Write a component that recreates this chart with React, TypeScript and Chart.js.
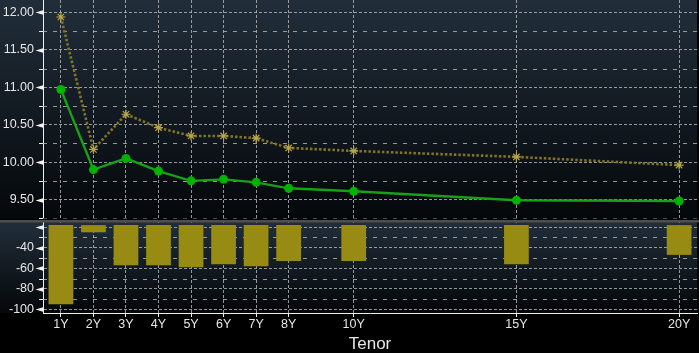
import React, { useEffect, useRef } from 'react';
import { Chart, registerables } from 'chart.js';

Chart.register(...registerables);

// ---- data ----
const tenors = [1, 2, 3, 4, 5, 6, 7, 8, 10, 15, 20];
const tenorLabels = ['1Y', '2Y', '3Y', '4Y', '5Y', '6Y', '7Y', '8Y', '10Y', '15Y', '20Y'];
const curveYellow = [11.94, 10.17, 10.64, 10.46, 10.35, 10.35, 10.32, 10.19, 10.15, 10.07, 9.96];
const curveGreen = [10.97, 9.9, 10.05, 9.88, 9.75, 9.77, 9.73, 9.65, 9.61, 9.49, 9.48];
const spread = [-95, -25, -57, -57, -59, -56, -58, -53, -53, -56, -47];

const rateTicks = [9.25, 9.5, 9.75, 10.0, 10.25, 10.5, 10.75, 11.0, 11.25, 11.5, 11.75, 12.0];
const rateLabelled = [9.5, 10.0, 10.5, 11.0, 11.5, 12.0];
const spreadTicks = [-100, -90, -80, -70, -60, -50, -40, -30, -20];
const spreadLabelled = [-100, -80, -60, -40];
const spreadArrowTicks = [-100, -80, -60, -40, -20];

const FONT = 'Liberation Sans, Arial, sans-serif';
const TEXT = '#e6e6e6';
const GRID = 'rgba(185,185,185,0.8)';

const isIn = (arr: number[], v: number) => arr.some((a) => Math.abs(a - v) < 1e-6);

const panelPlugin = {
  id: 'panels',
  beforeDraw(chart: any) {
    const { ctx, width, height } = chart;
    ctx.save();
    ctx.fillStyle = '#000';
    ctx.fillRect(0, 0, width, height);
    for (const id of ['yRate', 'yBar']) {
      const s = chart.scales[id];
      const g = ctx.createLinearGradient(0, s.top, 0, s.bottom);
      g.addColorStop(0, '#212e3a');
      g.addColorStop(1, '#04070a');
      ctx.fillStyle = g;
      ctx.fillRect(0, s.top, chart.chartArea.right, s.bottom - s.top);
    }
    ctx.restore();
  },
  beforeDatasetsDraw(chart: any) {
    const { ctx, width, chartArea } = chart;
    const top = chart.scales.yRate;
    ctx.save();
    // minor horizontal grid lines (sparser dash)
    const minor = (s: any, majors: number[], all: number[]) => {
      ctx.strokeStyle = GRID;
      ctx.lineWidth = 1;
      ctx.setLineDash([4, 6]);
      for (const v of all) {
        if (isIn(majors, v)) continue;
        const y = Math.round(s.getPixelForValue(v)) + 0.5;
        ctx.beginPath();
        ctx.moveTo(chartArea.left, y);
        ctx.lineTo(chartArea.right, y);
        ctx.stroke();
      }
      ctx.setLineDash([]);
    };
    minor(chart.scales.yRate, rateLabelled, rateTicks);
    minor(chart.scales.yBar, spreadArrowTicks, spreadTicks);

    // separator between panels
    ctx.fillStyle = '#000';
    ctx.fillRect(0, top.bottom - 2.5, width, 1.5);
    ctx.fillStyle = '#4e4e4e';
    ctx.fillRect(0, top.bottom - 1, width, 2.5);

    // tick marks on the y axes
    const drawMarks = (s: any, arrows: number[], all: number[]) => {
      const x0 = s.right;
      ctx.fillStyle = '#f0f0f0';
      ctx.strokeStyle = '#f0f0f0';
      ctx.lineWidth = 1;
      for (const v of all) {
        const y = Math.round(s.getPixelForValue(v)) + 0.5;
        if (isIn(arrows, v)) {
          ctx.beginPath();
          ctx.moveTo(x0 - 7.5, y);
          ctx.lineTo(x0, y - 2.3);
          ctx.lineTo(x0, y + 2.3);
          ctx.closePath();
          ctx.fill();
        } else {
          ctx.beginPath();
          ctx.moveTo(x0 - 4, y);
          ctx.lineTo(x0, y);
          ctx.stroke();
        }
      }
    };
    drawMarks(chart.scales.yRate, rateLabelled, rateTicks);
    drawMarks(chart.scales.yBar, spreadArrowTicks, spreadTicks);
    ctx.restore();
  },
};

export default function App() {
  const ref = useRef<HTMLCanvasElement | null>(null);

  useEffect(() => {
    document.body.style.margin = '0';
    document.body.style.background = '#000';
    if (!ref.current) return;

    const chart = new Chart(ref.current, {
      type: 'line',
      data: {
        datasets: [
          {
            type: 'line',
            label: 'Green',
            data: tenors.map((t, i) => ({ x: t, y: curveGreen[i] })),
            yAxisID: 'yRate',
            borderColor: 'rgb(24,160,24)',
            borderWidth: 2.4,
            pointRadius: 4.5,
            pointBackgroundColor: 'rgb(0,178,0)',
            pointBorderWidth: 0,
            tension: 0,
          },
          {
            type: 'line',
            label: 'Yellow',
            data: tenors.map((t, i) => ({ x: t, y: curveYellow[i] })),
            yAxisID: 'yRate',
            borderColor: 'rgb(128,116,42)',
            borderWidth: 2.6,
            borderDash: [2.5, 2],
            pointStyle: 'star',
            pointRadius: 4.5,
            pointBorderColor: 'rgb(185,165,70)',
            pointBorderWidth: 1.2,
            pointBackgroundColor: 'rgba(0,0,0,0)',
            tension: 0,
          },
          {
            type: 'bar',
            label: 'Spread',
            data: tenors.map((t, i) => ({ x: t, y: spread[i] })),
            yAxisID: 'yBar',
            base: -18,
            backgroundColor: '#978b13',
            borderWidth: 0,
            barPercentage: 0.76,
            categoryPercentage: 1,
          } as any,
        ],
      },
      options: {
        animation: false,
        responsive: true,
        maintainAspectRatio: false,
        events: [],
        layout: { autoPadding: false, padding: { top: 0, right: 2, left: 0, bottom: 0 } },
        plugins: { legend: { display: false }, tooltip: { enabled: false } },
        scales: {
          x: {
            type: 'linear',
            min: 0.45,
            max: 20.55,
            offset: false,
            afterBuildTicks: (s: any) => {
              s.ticks = tenors.map((v) => ({ value: v }));
            },
            afterFit: (s: any) => {
              s.height = 40;
            },
            ticks: {
              color: TEXT,
              font: { family: FONT, size: 12.5 },
              padding: 0,
              maxRotation: 0,
              autoSkip: false,
              callback: (_v: any, i: number) => tenorLabels[i],
            },
            grid: {
              offset: false,
              color: GRID,
              drawTicks: true,
              tickLength: 4,
              tickColor: '#f0f0f0',
              tickBorderDash: [],
              lineWidth: 1,
            },
            border: { display: true, color: '#f0f0f0', width: 1, dash: [3, 2] },
            title: {
              display: true,
              text: 'Tenor',
              color: TEXT,
              font: { family: FONT, size: 17 },
              padding: { top: 0, bottom: -2 },
            },
          },
          yBar: {
            type: 'linear',
            position: 'left',
            stack: 'panels',
            stackWeight: 92,
            min: -103.6,
            max: -14,
            afterBuildTicks: (s: any) => {
              s.ticks = spreadTicks.map((v) => ({ value: v }));
            },
            afterFit: (s: any) => {
              s.width = 43;
              s.paddingTop = 0;
              s.paddingBottom = 0;
            },
            ticks: {
              color: TEXT,
              font: { family: FONT, size: 12.5 },
              padding: 9,
              autoSkip: false,
              callback: (v: any) => (isIn(spreadLabelled, Number(v)) ? String(v) : ''),
            },
            grid: {
              drawTicks: false,
              lineWidth: 1,
              color: (c: any) =>
                isIn(spreadArrowTicks, c.tick ? c.tick.value : 0) ? GRID : 'rgba(0,0,0,0)',
            } as any,
            border: { display: true, color: '#f0f0f0', width: 1, dash: [3, 2] },
          },
          yRate: {
            type: 'linear',
            position: 'left',
            stack: 'panels',
            stackWeight: 221,
            min: 9.213,
            max: 12.167,
            afterBuildTicks: (s: any) => {
              s.ticks = rateTicks.map((v) => ({ value: v }));
            },
            afterFit: (s: any) => {
              s.width = 43;
              s.paddingTop = 0;
              s.paddingBottom = 0;
            },
            ticks: {
              color: TEXT,
              font: { family: FONT, size: 12.5 },
              padding: 9,
              autoSkip: false,
              callback: (v: any) => (isIn(rateLabelled, Number(v)) ? Number(v).toFixed(2) : ''),
            },
            grid: {
              drawTicks: false,
              lineWidth: 1,
              color: (c: any) =>
                isIn(rateLabelled, c.tick ? c.tick.value : 0) ? GRID : 'rgba(0,0,0,0)',
            } as any,
            border: { display: true, color: '#f0f0f0', width: 1, dash: [3, 2] },
          },
        },
      } as any,
      plugins: [panelPlugin],
    });

    return () => chart.destroy();
  }, []);

  return (
    <div style={{ width: 699, height: 353, background: '#000', position: 'relative' }}>
      <canvas ref={ref} />
    </div>
  );
}
